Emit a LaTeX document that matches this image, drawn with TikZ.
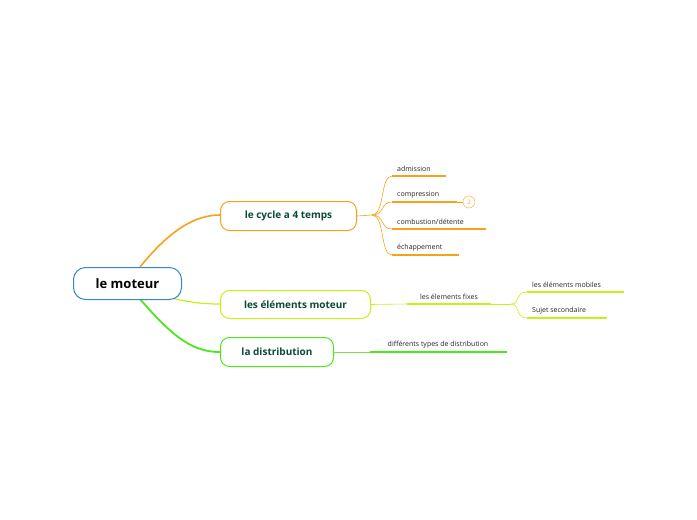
\documentclass[tikz,border=0pt]{standalone}
\usepackage{fontspec}
\setmainfont{Open Sans}
\definecolor{orng}{HTML}{F7A21B}
\definecolor{ylw}{HTML}{C6F01A}
\definecolor{grn}{HTML}{4CE81C}
\definecolor{blu}{HTML}{3A86C8}
\definecolor{dgrn}{HTML}{0B4A3A}
\tikzset{
 topic/.style={draw=#1,line width=1pt,rounded corners=9pt,fill=white,text=dgrn,font=\bfseries\fontsize{10}{12}\selectfont,inner sep=0pt,anchor=north west},
 lbl/.style={font=\fontsize{7}{8}\selectfont,text=black!85,anchor=south west,inner sep=1pt},
 ul/.style={draw=#1,line width=1.8pt}
}
\begin{document}
\begin{tikzpicture}[x=1pt,y=-1pt]
\useasboundingbox (0,0) rectangle (697,520);
% connectors from root
\draw[orng,line width=1.6pt] (140,267) .. controls (170,230) and (195,215) .. (220,215);
\draw[ylw,line width=1.2pt] (175,299) .. controls (195,303) and (205,304) .. (220,304);
\draw[grn,line width=1.8pt] (140,299) .. controls (175,340) and (195,352) .. (220,352);
% root
\node[draw=blu,line width=1pt,rounded corners=12pt,fill=white,minimum width=108pt,minimum height=32pt,font=\bfseries\fontsize{13}{15}\selectfont,inner sep=0pt,anchor=north west] (root) at (73,267) {le moteur};
\node[topic=orng,minimum width=136pt,minimum height=29pt] (cyc) at (220,201) {le cycle a 4 temps};
\node[topic=ylw,minimum width=150pt,minimum height=28pt] (elm) at (220,290) {les éléments moteur};
\node[topic=grn,minimum width=113pt,minimum height=29pt] (dis) at (220,337) {la distribution};
% cycle children
\coordinate (cf) at (372,215);
\draw[orng,line width=0.6pt] (cyc.east) -- (cf);
\foreach \y/\x/\t/\n in {176/446/admission/a,202/457/compression/b,229/486/combustion\slash détente/c,255/459/échappement/d}{
  \draw[orng,line width=0.6pt] (cf) .. controls (385,215) and (380,\y) .. (392,\y);
  \draw[ul=orng] (392,\y) -- (\x,\y);
  \node[lbl] at (396,\y-3) {\t};
}
\node[draw=orng!70,circle,line width=0.6pt,minimum size=12pt,inner sep=0pt,text=orng,font=\fontsize{6}{7}\selectfont] (n2) at (469,202) {2};
\draw[orng,line width=0.6pt] (457,202) -- (n2.west);
% elements
\coordinate (ef) at (407,304);
\draw[ylw,line width=0.6pt] (elm.east) -- (ef);
\draw[ul=ylw] (407,304) -- (491,304);
\node[lbl,anchor=south] at (449,301) {les élements fixes};
\coordinate (ef2) at (511,304);
\draw[ylw,line width=0.6pt] (491,304) -- (ef2);
\foreach \y/\x/\t in {292/624/les éléments mobiles,318/607/Sujet secondaire}{
  \draw[ylw,line width=0.6pt] (ef2) .. controls (520,304) and (515,\y) .. (527,\y);
  \draw[ul=ylw] (527,\y) -- (\x,\y);
  \node[lbl] at (531,\y-3) {\t};
}
% distribution
\draw[grn!70!pink,line width=0.5pt] (dis.east) -- (370,352);
\draw[ul=grn] (370,352) -- (507,352);
\node[lbl,anchor=south] at (438,349) {différents types de distribution};
\end{tikzpicture}
\end{document}
